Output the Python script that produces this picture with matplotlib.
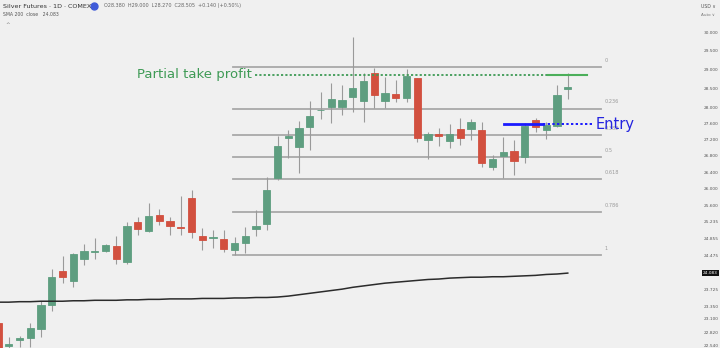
import matplotlib
matplotlib.use("Agg")
import matplotlib.pyplot as plt
from matplotlib.lines import Line2D
import numpy as np

# ---------------- data ----------------
opens = [23.01, 22.53, 22.66, 22.70, 22.88, 23.39, 24.12, 23.90, 24.39, 24.55,
         24.57, 24.68, 24.32, 25.23, 25.02, 25.39, 25.26, 25.11, 25.79, 24.91,
         24.86, 24.84, 24.59, 24.75, 25.07, 25.19, 26.26, 27.24, 27.01, 27.51,
         27.93, 28.02, 28.02, 28.27, 28.17, 28.90, 28.17, 28.35, 28.24, 28.76,
         27.19, 27.33, 27.16, 27.46, 27.46, 27.44, 26.52, 26.79, 26.92, 26.77,
         27.69, 27.44, 27.54, 28.48]
highs = [23.12, 22.72, 22.74, 23.01, 23.48, 24.17, 24.46, 24.53, 24.73, 24.86,
         24.73, 24.91, 25.24, 25.35, 25.67, 25.53, 25.35, 25.83, 25.98, 25.09,
         25.05, 25.05, 24.89, 25.11, 25.51, 26.29, 27.29, 27.44, 27.66, 28.17,
         28.40, 28.63, 28.58, 29.86, 28.90, 29.03, 28.79, 28.71, 29.01, 28.78,
         27.39, 27.49, 27.59, 27.74, 27.71, 27.64, 26.82, 27.26, 27.19, 27.61,
         27.74, 27.64, 28.58, 28.90]
lows = [22.35, 22.46, 22.51, 22.51, 22.72, 23.26, 23.87, 23.78, 24.26, 24.39,
        24.55, 24.28, 24.28, 24.93, 25.00, 25.16, 24.93, 24.93, 24.86, 24.59,
        24.64, 24.55, 24.48, 24.52, 24.91, 25.05, 26.21, 26.75, 26.38, 26.94,
        27.71, 27.61, 27.82, 27.89, 27.64, 28.00, 28.00, 28.14, 28.14, 27.13,
        26.72, 27.04, 26.99, 27.06, 27.19, 26.52, 26.45, 26.26, 26.33, 26.62,
        27.39, 27.21, 27.51, 28.22]
closes = [22.42, 22.57, 22.70, 22.90, 23.39, 23.99, 23.99, 24.50, 24.57, 24.56,
          24.70, 24.39, 25.14, 25.07, 25.37, 25.26, 25.14, 25.08, 25.00, 24.82,
          24.89, 24.62, 24.75, 24.91, 25.14, 25.98, 27.04, 27.29, 27.49, 27.79,
          27.95, 28.22, 28.20, 28.50, 28.69, 28.32, 28.37, 28.24, 28.82, 27.24,
          27.34, 27.29, 27.34, 27.24, 27.64, 26.62, 26.72, 26.89, 26.67, 27.54,
          27.51, 27.56, 28.32, 28.53]
sma200 = [23.45, 23.45, 23.46, 23.46, 23.47, 23.47, 23.47, 23.48, 23.48, 23.49,
          23.49, 23.49, 23.50, 23.50, 23.51, 23.51, 23.52, 23.52, 23.52, 23.53,
          23.53, 23.53, 23.54, 23.54, 23.55, 23.55, 23.56, 23.58, 23.61, 23.64,
          23.67, 23.70, 23.73, 23.77, 23.80, 23.83, 23.86, 23.88, 23.90, 23.92,
          23.94, 23.95, 23.97, 23.98, 23.99, 23.99, 24.00, 24.00, 24.01, 24.02,
          24.03, 24.05, 24.06, 24.08]

fib_levels = [0, 0.236, 0.382, 0.5, 0.618, 0.786, 1]
fib_labels = ["0", "0.236", "0.382", "0.5", "0.618", "0.786", "1"]
fib_high = 29.06
fib_low = 24.48
take_profit = 28.85
entry = 27.58

price_ticks = [30.000, 29.500, 29.000, 28.500, 28.000, 27.600, 27.200, 26.800,
               26.400, 26.000, 25.600, 25.235, 24.855, 24.475, 23.725, 23.350,
               23.100, 22.820, 22.540]
price_tick_labels = ["30.000", "29.500", "29.000", "28.500", "28.000", "27.600",
                     "27.200", "26.800", "26.400", "26.000", "25.600", "25.235",
                     "24.855", "24.475", "23.725", "23.350", "23.100", "22.820",
                     "22.540"]
sma_last_label = "24.083"

# ---------------- style ----------------
BG = "#f0f0f0"
GREEN = "#5e9e80"
RED = "#d2503f"
WICK = "#9a9a9a"
FIB = "#a8a8a8"

fig = plt.figure(figsize=(7.2, 3.48), dpi=100, facecolor=BG)
ax = fig.add_axes([0, 0, 700 / 720, 1])
ax.set_facecolor(BG)
ax.set_yscale("log")

n = len(opens)
x = np.arange(n)

# wicks
ax.vlines(x, lows, highs, color=WICK, linewidth=0.8, zorder=2)
# bodies
for i in range(n):
    o, c = opens[i], closes[i]
    col = GREEN if c >= o else RED
    lo, hi = min(o, c), max(o, c)
    if hi - lo < 0.02:
        hi = lo + 0.02
    ax.bar(i, hi - lo, bottom=lo, width=0.68, color=col, edgecolor=col,
           linewidth=0.6, zorder=3)

# SMA 200
ax.plot(x, sma200, color="#2b2b2b", linewidth=1.1, zorder=4)

# Fibonacci retracement
fx0, fx1 = 21.9, 56.1
for lvl, lab in zip(fib_levels, fib_labels):
    p = fib_high - lvl * (fib_high - fib_low)
    ax.plot([fx0, fx1], [p, p], color=FIB, linewidth=1.3, zorder=1)
    ax.text(fx1 + 0.3, p * 1.004, lab, fontsize=3.6, color="#9a9a9a",
            ha="left", va="bottom", zorder=1)

# Partial take profit
ax.plot([23.9, 51.2], [take_profit, take_profit], color="#3e9a55",
        linewidth=1.3, linestyle=(0, (1.2, 1.2)), zorder=6)
ax.plot([51.2, 54.8], [take_profit, take_profit], color="#4caf5a",
        linewidth=1.5, zorder=6)
ax.text(23.6, take_profit, "Partial take profit", color="#3e9a55",
        fontsize=9.5, ha="right", va="center", zorder=6)

# Entry
ax.plot([47.1, 50.7], [entry, entry], color="#1a1aff", linewidth=2.0, zorder=6)
ax.plot([50.7, 55.3], [entry, entry], color="#1a1aff", linewidth=1.4,
        linestyle=(0, (1.2, 1.2)), zorder=6)
ax.text(55.6, entry, "Entry", color="#2424e0", fontsize=10.5,
        ha="left", va="center", zorder=6)

# axes
ax.set_xlim(0.186, 65.3)
ax.set_ylim(22.49, 30.89)
for s in ax.spines.values():
    s.set_visible(False)
ax.set_xticks([])
ax.yaxis.tick_right()
ax.yaxis.set_minor_locator(matplotlib.ticker.NullLocator())
ax.set_yticks(price_ticks)
ax.set_yticklabels(price_tick_labels)
ax.tick_params(axis="y", length=0, pad=2.5, labelsize=3.1, labelcolor="#555555")

# last SMA value label
ax.annotate(sma_last_label, xy=(1.0, sma200[-1]),
            xycoords=("axes fraction", "data"), xytext=(2, 0),
            textcoords="offset points", fontsize=3.1, color="white",
            ha="left", va="center",
            bbox=dict(boxstyle="square,pad=0.25", fc="#111111", ec="none"),
            annotation_clip=False)

# header
fig.text(3 / 720, 1 - 6 / 348, "Silver Futures · 1D · COMEX", fontsize=4.6,
         color="#333333", ha="left", va="center")
fig.add_artist(Line2D([94 / 720], [1 - 6 / 348], marker="o", markersize=5,
                      color="#3f5bd8", transform=fig.transFigure))
fig.text(104 / 720, 1 - 6 / 348,
         "O28.380  H29.000  L28.270  C28.505  +0.140 (+0.50%)",
         fontsize=3.5, color="#666666", ha="left", va="center")
fig.text(3 / 720, 1 - 14 / 348, "SMA 200  close   24.083", fontsize=3.3,
         color="#555555", ha="left", va="center")
fig.text(8 / 720, 1 - 24 / 348, "^", fontsize=4, color="#777777",
         ha="center", va="center")
fig.text(708 / 720, 1 - 6 / 348, "USD \u2228", fontsize=3.3, color="#555555",
         ha="center", va="center")
fig.text(708 / 720, 1 - 15 / 348, "Auto \u2228", fontsize=3.0, color="#777777",
         ha="center", va="center")

fig.savefig("out.png", dpi=100, facecolor=BG)
